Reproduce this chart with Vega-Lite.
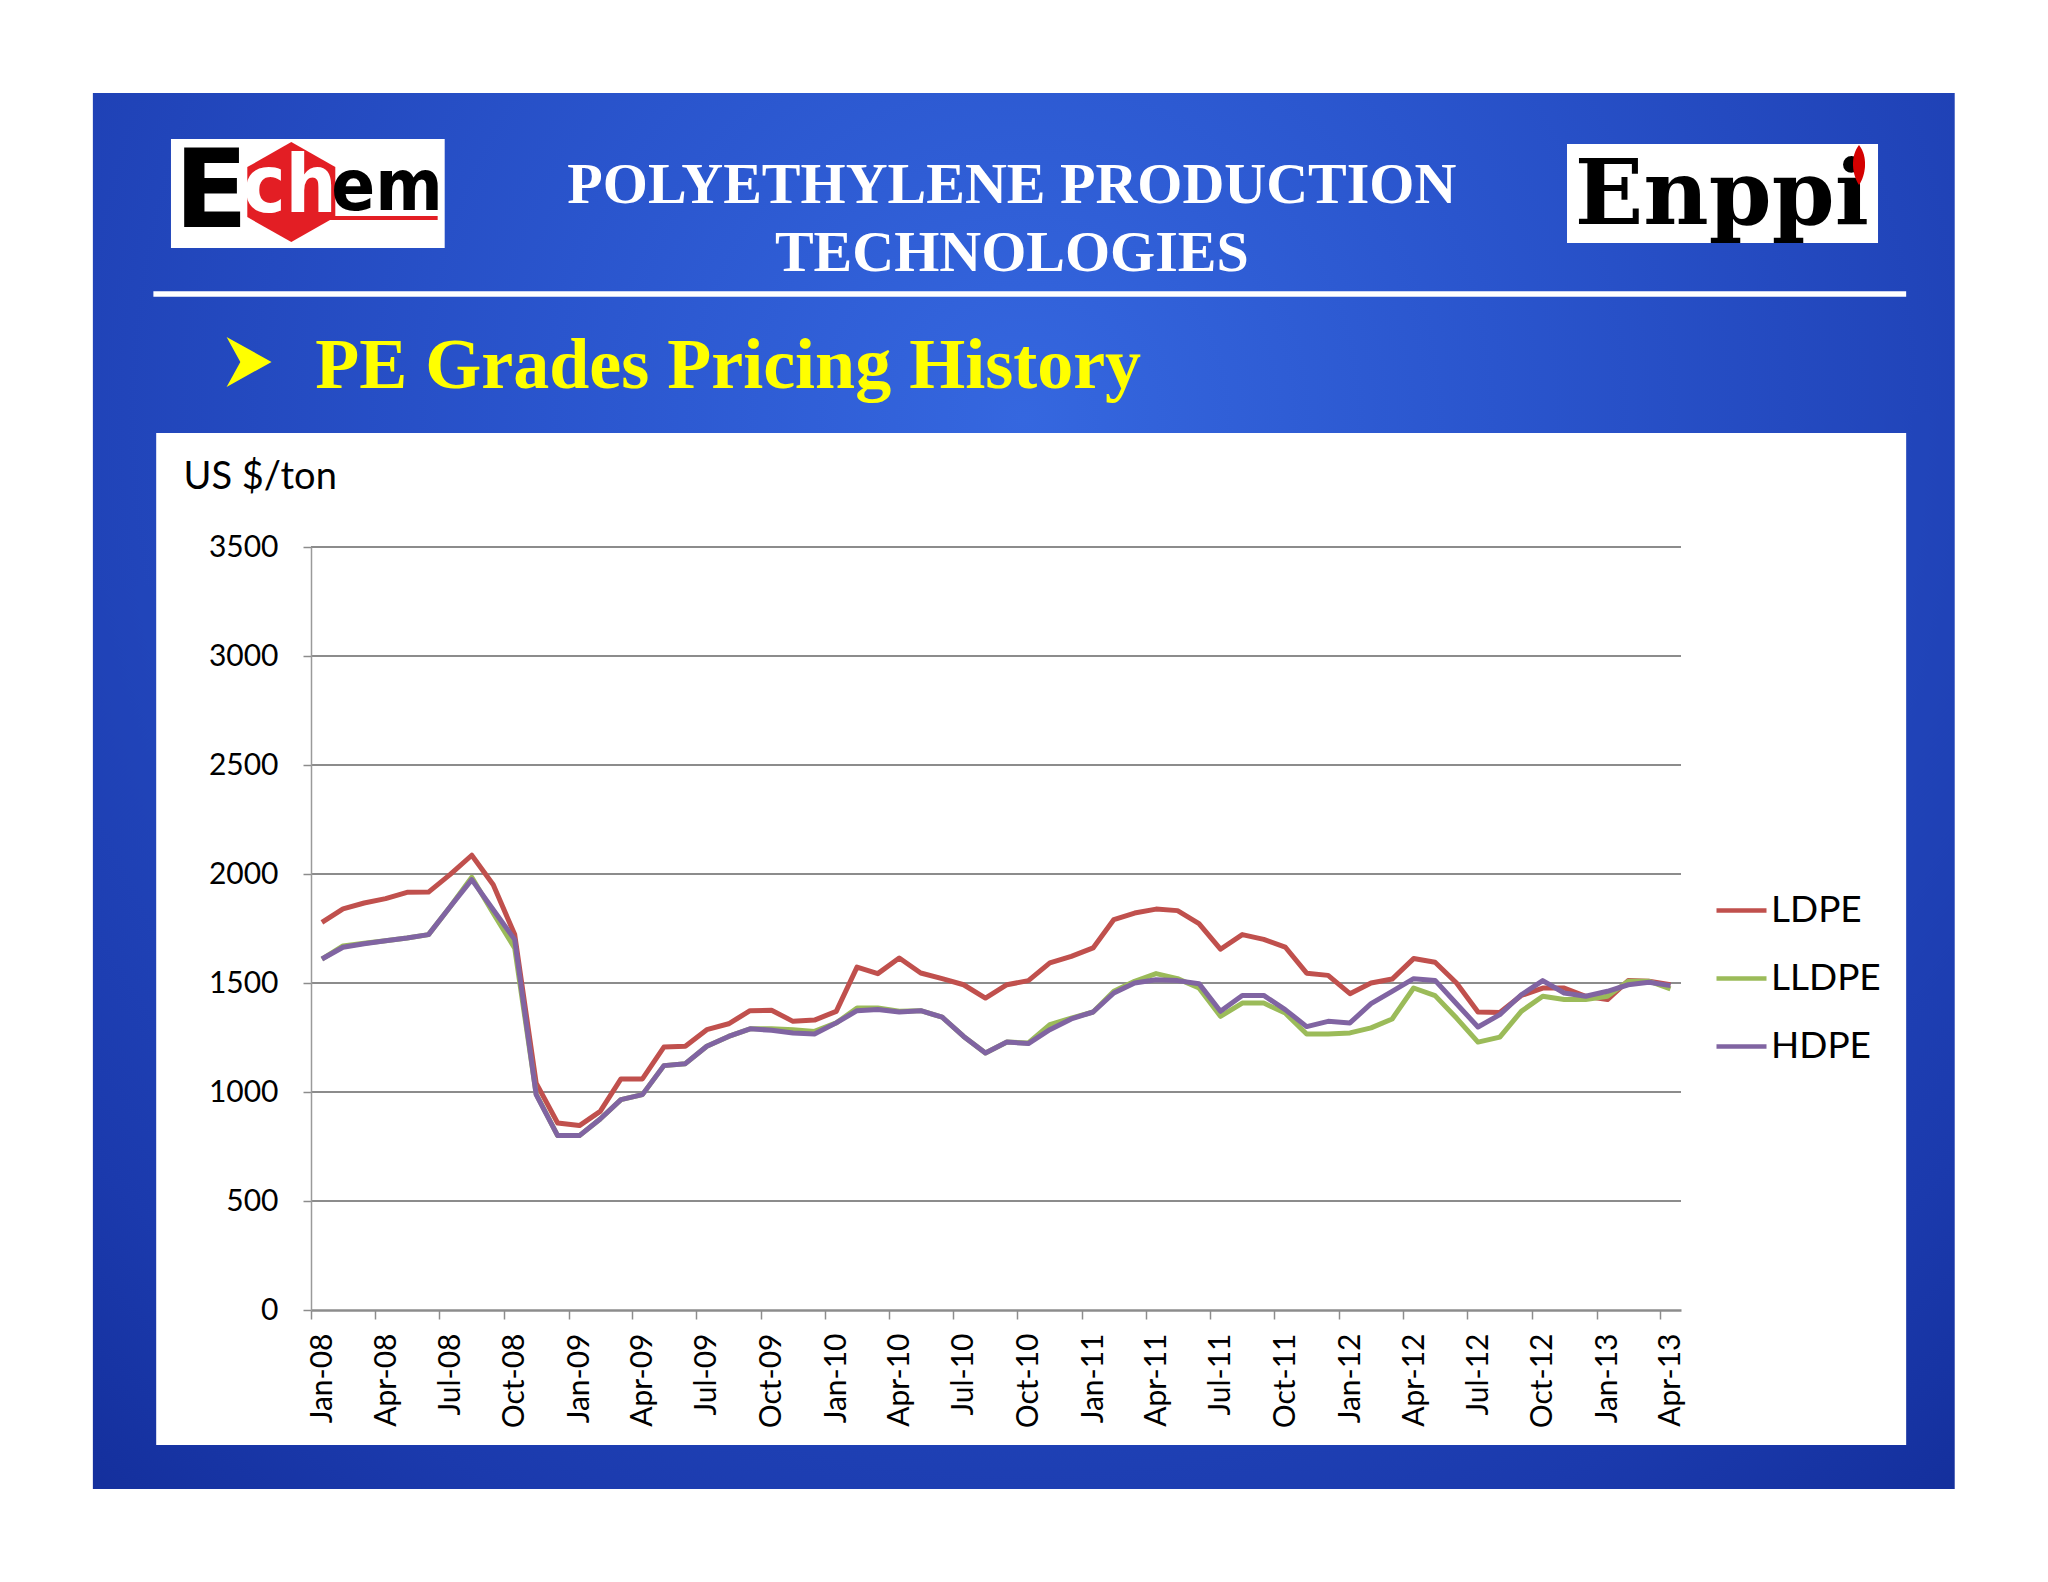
{
  "$schema": "https://vega.github.io/schema/vega-lite/v6.json",
  "width": 1862,
  "height": 1396,
  "autosize": {"type": "none"},
  "padding": {"left": 93, "top": 93, "right": 93, "bottom": 93},
  "background": "#ffffff",
  "config": {"view": {"stroke": null, "fill": null}},
  "resolve": {"axis": {"x": "independent", "y": "independent"}},
  "layer": [
    {
      "data": {"values": [{}]},
      "mark": {"type": "rect", "fill": {"gradient": "radial", "x1": 0.5, "y1": 0.3, "r1": 0, "x2": 0.5, "y2": 0.3, "r2": 0.85, "stops": [{"offset": 0, "color": "#3567df"}, {"offset": 0.3, "color": "#2a55cd"}, {"offset": 0.75, "color": "#1b3aad"}, {"offset": 1, "color": "#0f2891"}]}},
      "encoding": {
        "x": {"datum": {"year": 2007, "month": 2, "date": 25}, "type": "temporal", "scale": {"domain": [{"year": 2008, "month": 1, "date": 1}, {"year": 2013, "month": 5, "date": 1}], "range": [218, 1588]}, "axis": null},
        "x2": {"datum": {"year": 2014, "month": 5, "date": 25}},
        "y": {"datum": 5583, "type": "quantitative", "scale": {"domain": [0, 3500], "range": [1217, 454], "nice": false, "zero": false}, "axis": null},
        "y2": {"datum": -821}
      }
    },
    {
      "data": {"values": [{}]},
      "mark": {"type": "rule", "color": "#ffffff", "strokeWidth": 5.5},
      "encoding": {
        "x": {"datum": {"year": 2007, "month": 5, "date": 22}, "type": "temporal", "scale": {"domain": [{"year": 2008, "month": 1, "date": 1}, {"year": 2013, "month": 5, "date": 1}], "range": [218, 1588]}, "axis": null},
        "x2": {"datum": {"year": 2014, "month": 3, "date": 17}},
        "y": {"datum": 4661, "type": "quantitative", "scale": {"domain": [0, 3500], "range": [1217, 454], "nice": false, "zero": false}, "axis": null}
      }
    },
    {
      "data": {"values": [{}]},
      "mark": {"type": "rect", "fill": "#ffffff"},
      "encoding": {
        "x": {"datum": {"year": 2007, "month": 6, "date": 16}, "type": "temporal", "scale": {"domain": [{"year": 2008, "month": 1, "date": 1}, {"year": 2013, "month": 5, "date": 1}], "range": [218, 1588]}, "axis": null},
        "x2": {"datum": {"year": 2008, "month": 7, "date": 9}},
        "y": {"datum": 5372, "type": "quantitative", "scale": {"domain": [0, 3500], "range": [1217, 454], "nice": false, "zero": false}, "axis": null},
        "y2": {"datum": 4872}
      }
    },
    {
      "data": {"values": [{}]},
      "mark": {"type": "point", "shape": "M0,-1L0.88,-0.5L0.88,0.5L0,1L-0.88,0.5L-0.88,-0.5Z", "size": 10000, "filled": true, "color": "#e31e24", "opacity": 1},
      "encoding": {
        "x": {"datum": {"year": 2007, "month": 12, "date": 4}, "type": "temporal", "scale": {"domain": [{"year": 2008, "month": 1, "date": 1}, {"year": 2013, "month": 5, "date": 1}], "range": [218, 1588]}, "axis": null},
        "y": {"datum": 5128, "type": "quantitative", "scale": {"domain": [0, 3500], "range": [1217, 454], "nice": false, "zero": false}, "axis": null}
      }
    },
    {
      "data": {"values": [{}]},
      "mark": {"type": "text", "text": "E", "font": "DejaVu Sans", "fontWeight": "bold", "fontSize": 108, "align": "center", "baseline": "alphabetic", "color": "#000000"},
      "encoding": {
        "x": {"datum": {"year": 2007, "month": 8, "date": 12}, "type": "temporal", "scale": {"domain": [{"year": 2008, "month": 1, "date": 1}, {"year": 2013, "month": 5, "date": 1}], "range": [218, 1588]}, "axis": null},
        "y": {"datum": 4968, "type": "quantitative", "scale": {"domain": [0, 3500], "range": [1217, 454], "nice": false, "zero": false}, "axis": null}
      }
    },
    {
      "data": {"values": [{}]},
      "mark": {"type": "text", "text": "ch", "font": "Liberation Sans Narrow, DejaVu Sans Condensed, Liberation Sans, sans-serif", "fontWeight": "bold", "fontSize": 80, "align": "center", "baseline": "alphabetic", "color": "#ffffff"},
      "encoding": {
        "x": {"datum": {"year": 2007, "month": 12, "date": 2}, "type": "temporal", "scale": {"domain": [{"year": 2008, "month": 1, "date": 1}, {"year": 2013, "month": 5, "date": 1}], "range": [218, 1588]}, "axis": null},
        "y": {"datum": 5037, "type": "quantitative", "scale": {"domain": [0, 3500], "range": [1217, 454], "nice": false, "zero": false}, "axis": null}
      }
    },
    {
      "data": {"values": [{}]},
      "mark": {"type": "text", "text": "em", "font": "Liberation Sans Narrow, DejaVu Sans Condensed, Liberation Sans, sans-serif", "fontWeight": "bold", "fontSize": 72, "align": "center", "baseline": "alphabetic", "color": "#000000"},
      "encoding": {
        "x": {"datum": {"year": 2008, "month": 4, "date": 18}, "type": "temporal", "scale": {"domain": [{"year": 2008, "month": 1, "date": 1}, {"year": 2013, "month": 5, "date": 1}], "range": [218, 1588]}, "axis": null},
        "y": {"datum": 5046, "type": "quantitative", "scale": {"domain": [0, 3500], "range": [1217, 454], "nice": false, "zero": false}, "axis": null}
      }
    },
    {
      "data": {"values": [{}]},
      "mark": {"type": "rule", "color": "#e31e24", "strokeWidth": 4},
      "encoding": {
        "x": {"datum": {"year": 2008, "month": 1, "date": 28}, "type": "temporal", "scale": {"domain": [{"year": 2008, "month": 1, "date": 1}, {"year": 2013, "month": 5, "date": 1}], "range": [218, 1588]}, "axis": null},
        "x2": {"datum": {"year": 2008, "month": 6, "date": 29}},
        "y": {"datum": 5009, "type": "quantitative", "scale": {"domain": [0, 3500], "range": [1217, 454], "nice": false, "zero": false}, "axis": null}
      }
    },
    {
      "data": {"values": [{}]},
      "mark": {"type": "rect", "fill": "#ffffff"},
      "encoding": {
        "x": {"datum": {"year": 2012, "month": 11, "date": 20}, "type": "temporal", "scale": {"domain": [{"year": 2008, "month": 1, "date": 1}, {"year": 2013, "month": 5, "date": 1}], "range": [218, 1588]}, "axis": null},
        "x2": {"datum": {"year": 2014, "month": 2, "date": 5}},
        "y": {"datum": 5349, "type": "quantitative", "scale": {"domain": [0, 3500], "range": [1217, 454], "nice": false, "zero": false}, "axis": null},
        "y2": {"datum": 4894}
      }
    },
    {
      "data": {"values": [{}]},
      "mark": {"type": "text", "text": "Enppi", "font": "DejaVu Serif", "fontWeight": "bold", "fontSize": 90, "align": "center", "baseline": "alphabetic", "color": "#000000"},
      "encoding": {
        "x": {"datum": {"year": 2013, "month": 6, "date": 28}, "type": "temporal", "scale": {"domain": [{"year": 2008, "month": 1, "date": 1}, {"year": 2013, "month": 5, "date": 1}], "range": [218, 1588]}, "axis": null},
        "y": {"datum": 4982, "type": "quantitative", "scale": {"domain": [0, 3500], "range": [1217, 454], "nice": false, "zero": false}, "axis": null}
      }
    },
    {
      "data": {"values": [{}]},
      "mark": {"type": "point", "shape": "M0,-1C0.45,-0.45 0.35,0.5 0,1C-0.35,0.5 -0.45,-0.45 0,-1Z", "size": 1600, "filled": true, "color": "#d40000", "opacity": 1},
      "encoding": {
        "x": {"datum": {"year": 2014, "month": 1, "date": 9}, "type": "temporal", "scale": {"domain": [{"year": 2008, "month": 1, "date": 1}, {"year": 2013, "month": 5, "date": 1}], "range": [218, 1588]}, "axis": null},
        "y": {"datum": 5252, "type": "quantitative", "scale": {"domain": [0, 3500], "range": [1217, 454], "nice": false, "zero": false}, "axis": null}
      }
    },
    {
      "data": {"values": [{}]},
      "mark": {"type": "text", "text": ["POLYETHYLENE PRODUCTION", "TECHNOLOGIES"], "lineHeight": 68, "font": "Liberation Serif", "fontWeight": "bold", "fontSize": 58, "align": "center", "baseline": "alphabetic", "color": "#ffffff"},
      "encoding": {
        "x": {"datum": {"year": 2010, "month": 9, "date": 23}, "type": "temporal", "scale": {"domain": [{"year": 2008, "month": 1, "date": 1}, {"year": 2013, "month": 5, "date": 1}], "range": [218, 1588]}, "axis": null},
        "y": {"datum": 5078, "type": "quantitative", "scale": {"domain": [0, 3500], "range": [1217, 454], "nice": false, "zero": false}, "axis": null}
      }
    },
    {
      "data": {"values": [{}]},
      "mark": {"type": "point", "shape": "M-0.9,-1L0.9,0L-0.9,1L-0.35,0Z", "size": 2500, "filled": true, "color": "#ffff00", "opacity": 1},
      "encoding": {
        "x": {"datum": {"year": 2007, "month": 10, "date": 5}, "type": "temporal", "scale": {"domain": [{"year": 2008, "month": 1, "date": 1}, {"year": 2013, "month": 5, "date": 1}], "range": [218, 1588]}, "axis": null},
        "y": {"datum": 4349, "type": "quantitative", "scale": {"domain": [0, 3500], "range": [1217, 454], "nice": false, "zero": false}, "axis": null}
      }
    },
    {
      "data": {"values": [{}]},
      "mark": {"type": "text", "text": "PE Grades Pricing History", "font": "Liberation Serif", "fontWeight": "bold", "fontSize": 72, "align": "left", "baseline": "alphabetic", "color": "#ffff00"},
      "encoding": {
        "x": {"datum": {"year": 2008, "month": 1, "date": 7}, "type": "temporal", "scale": {"domain": [{"year": 2008, "month": 1, "date": 1}, {"year": 2013, "month": 5, "date": 1}], "range": [218, 1588]}, "axis": null},
        "y": {"datum": 4229, "type": "quantitative", "scale": {"domain": [0, 3500], "range": [1217, 454], "nice": false, "zero": false}, "axis": null}
      }
    },
    {
      "data": {"values": [{}]},
      "mark": {"type": "rect", "fill": "#ffffff"},
      "encoding": {
        "x": {"datum": {"year": 2007, "month": 5, "date": 26}, "type": "temporal", "scale": {"domain": [{"year": 2008, "month": 1, "date": 1}, {"year": 2013, "month": 5, "date": 1}], "range": [218, 1588]}, "axis": null},
        "x2": {"datum": {"year": 2014, "month": 3, "date": 17}},
        "y": {"datum": 4023, "type": "quantitative", "scale": {"domain": [0, 3500], "range": [1217, 454], "nice": false, "zero": false}, "axis": null},
        "y2": {"datum": -619}
      }
    },
    {
      "data": {"values": [{"v": 500}, {"v": 1000}, {"v": 1500}, {"v": 2000}, {"v": 2500}, {"v": 3000}, {"v": 3500}]},
      "mark": {"type": "rule", "color": "#8c8c8c", "strokeWidth": 2},
      "encoding": {
        "x": {"datum": {"year": 2008, "month": 1, "date": 1}, "type": "temporal", "scale": {"domain": [{"year": 2008, "month": 1, "date": 1}, {"year": 2013, "month": 5, "date": 1}], "range": [218, 1588]}, "axis": null},
        "x2": {"datum": {"year": 2013, "month": 5, "date": 1}},
        "y": {"field": "v", "type": "quantitative", "scale": {"domain": [0, 3500], "range": [1217, 454], "nice": false, "zero": false}, "axis": null}
      }
    },
    {
      "data": {"values": [
        {"month": "2008-01-15", "LDPE": 1778, "LLDPE": 1610, "HDPE": 1610},
        {"month": "2008-02-15", "LDPE": 1840, "LLDPE": 1670, "HDPE": 1664},
        {"month": "2008-03-15", "LDPE": 1867, "LLDPE": 1682, "HDPE": 1680},
        {"month": "2008-04-15", "LDPE": 1887, "LLDPE": 1694, "HDPE": 1694},
        {"month": "2008-05-15", "LDPE": 1916, "LLDPE": 1706, "HDPE": 1706},
        {"month": "2008-06-15", "LDPE": 1917, "LLDPE": 1722, "HDPE": 1722},
        {"month": "2008-07-15", "LDPE": 1997, "LLDPE": 1849, "HDPE": 1849},
        {"month": "2008-08-15", "LDPE": 2086, "LLDPE": 1985, "HDPE": 1974},
        {"month": "2008-09-15", "LDPE": 1951, "LLDPE": 1820, "HDPE": 1836},
        {"month": "2008-10-15", "LDPE": 1722, "LLDPE": 1660, "HDPE": 1699},
        {"month": "2008-11-15", "LDPE": 1041, "LLDPE": 990, "HDPE": 988},
        {"month": "2008-12-15", "LDPE": 858, "LLDPE": 800, "HDPE": 800},
        {"month": "2009-01-15", "LDPE": 846, "LLDPE": 800, "HDPE": 800},
        {"month": "2009-02-15", "LDPE": 911, "LLDPE": 876, "HDPE": 876},
        {"month": "2009-03-15", "LDPE": 1060, "LLDPE": 965, "HDPE": 965},
        {"month": "2009-04-15", "LDPE": 1060, "LLDPE": 988, "HDPE": 988},
        {"month": "2009-05-15", "LDPE": 1206, "LLDPE": 1121, "HDPE": 1121},
        {"month": "2009-06-15", "LDPE": 1210, "LLDPE": 1130, "HDPE": 1130},
        {"month": "2009-07-15", "LDPE": 1286, "LLDPE": 1210, "HDPE": 1210},
        {"month": "2009-08-15", "LDPE": 1313, "LLDPE": 1255, "HDPE": 1255},
        {"month": "2009-09-15", "LDPE": 1373, "LLDPE": 1290, "HDPE": 1290},
        {"month": "2009-10-15", "LDPE": 1375, "LLDPE": 1290, "HDPE": 1283},
        {"month": "2009-11-15", "LDPE": 1324, "LLDPE": 1285, "HDPE": 1271},
        {"month": "2009-12-15", "LDPE": 1330, "LLDPE": 1278, "HDPE": 1266},
        {"month": "2010-01-15", "LDPE": 1370, "LLDPE": 1317, "HDPE": 1317},
        {"month": "2010-02-15", "LDPE": 1573, "LLDPE": 1385, "HDPE": 1373},
        {"month": "2010-03-15", "LDPE": 1543, "LLDPE": 1385, "HDPE": 1378},
        {"month": "2010-04-15", "LDPE": 1615, "LLDPE": 1370, "HDPE": 1367},
        {"month": "2010-05-15", "LDPE": 1546, "LLDPE": 1373, "HDPE": 1373},
        {"month": "2010-06-15", "LDPE": 1520, "LLDPE": 1343, "HDPE": 1343},
        {"month": "2010-07-15", "LDPE": 1492, "LLDPE": 1255, "HDPE": 1255},
        {"month": "2010-08-15", "LDPE": 1431, "LLDPE": 1179, "HDPE": 1179},
        {"month": "2010-09-15", "LDPE": 1492, "LLDPE": 1229, "HDPE": 1229},
        {"month": "2010-10-15", "LDPE": 1511, "LLDPE": 1225, "HDPE": 1222},
        {"month": "2010-11-15", "LDPE": 1592, "LLDPE": 1309, "HDPE": 1286},
        {"month": "2010-12-15", "LDPE": 1622, "LLDPE": 1339, "HDPE": 1335},
        {"month": "2011-01-15", "LDPE": 1661, "LLDPE": 1367, "HDPE": 1367},
        {"month": "2011-02-15", "LDPE": 1791, "LLDPE": 1462, "HDPE": 1454},
        {"month": "2011-03-15", "LDPE": 1821, "LLDPE": 1508, "HDPE": 1500},
        {"month": "2011-04-15", "LDPE": 1839, "LLDPE": 1543, "HDPE": 1515},
        {"month": "2011-05-15", "LDPE": 1832, "LLDPE": 1520, "HDPE": 1511},
        {"month": "2011-06-15", "LDPE": 1772, "LLDPE": 1477, "HDPE": 1497},
        {"month": "2011-07-15", "LDPE": 1655, "LLDPE": 1347, "HDPE": 1370},
        {"month": "2011-08-15", "LDPE": 1722, "LLDPE": 1408, "HDPE": 1443},
        {"month": "2011-09-15", "LDPE": 1700, "LLDPE": 1408, "HDPE": 1443},
        {"month": "2011-10-15", "LDPE": 1665, "LLDPE": 1362, "HDPE": 1378},
        {"month": "2011-11-15", "LDPE": 1545, "LLDPE": 1266, "HDPE": 1300},
        {"month": "2011-12-15", "LDPE": 1535, "LLDPE": 1266, "HDPE": 1324},
        {"month": "2012-01-15", "LDPE": 1451, "LLDPE": 1271, "HDPE": 1317},
        {"month": "2012-02-15", "LDPE": 1500, "LLDPE": 1294, "HDPE": 1405},
        {"month": "2012-03-15", "LDPE": 1518, "LLDPE": 1335, "HDPE": 1462},
        {"month": "2012-04-15", "LDPE": 1612, "LLDPE": 1477, "HDPE": 1520},
        {"month": "2012-05-15", "LDPE": 1595, "LLDPE": 1442, "HDPE": 1512},
        {"month": "2012-06-15", "LDPE": 1500, "LLDPE": 1339, "HDPE": 1405},
        {"month": "2012-07-15", "LDPE": 1367, "LLDPE": 1229, "HDPE": 1298},
        {"month": "2012-08-15", "LDPE": 1365, "LLDPE": 1252, "HDPE": 1355},
        {"month": "2012-09-15", "LDPE": 1443, "LLDPE": 1370, "HDPE": 1446},
        {"month": "2012-10-15", "LDPE": 1477, "LLDPE": 1439, "HDPE": 1511},
        {"month": "2012-11-15", "LDPE": 1477, "LLDPE": 1424, "HDPE": 1454},
        {"month": "2012-12-15", "LDPE": 1439, "LLDPE": 1424, "HDPE": 1439},
        {"month": "2013-01-15", "LDPE": 1424, "LLDPE": 1439, "HDPE": 1462},
        {"month": "2013-02-15", "LDPE": 1511, "LLDPE": 1508, "HDPE": 1492},
        {"month": "2013-03-15", "LDPE": 1508, "LLDPE": 1508, "HDPE": 1503},
        {"month": "2013-04-15", "LDPE": 1492, "LLDPE": 1473, "HDPE": 1488}
      ]},
      "transform": [{"fold": ["LDPE", "LLDPE", "HDPE"], "as": ["grade", "price"]}],
      "mark": {"type": "line", "strokeWidth": 5, "strokeJoin": "round"},
      "encoding": {
        "x": {
          "field": "month", "timeUnit": "yearmonth", "type": "temporal", "bandPosition": 0.5,
          "scale": {"domain": [{"year": 2008, "month": 1, "date": 1}, {"year": 2013, "month": 5, "date": 1}], "range": [218, 1588]},
          "axis": {
            "orient": "bottom", "offset": -179, "zindex": 1, "title": null, "grid": false,
            "tickCount": {"interval": "month", "step": 3}, "format": "%b-%y", "formatType": "time",
            "labelAngle": -90, "labelAlign": "right", "labelBaseline": "middle", "labelOffset": 11, "labelPadding": 14,
            "labelFont": "Lato", "labelFontSize": 30, "labelColor": "#000000", "labelFlush": false, "labelOverlap": false, "labelBound": false,
            "tickSize": 9, "tickColor": "#8c8c8c", "tickWidth": 1.5, "domainColor": "#8c8c8c", "domainWidth": 2.5
          }
        },
        "y": {
          "field": "price", "type": "quantitative",
          "scale": {"domain": [0, 3500], "range": [1217, 454], "nice": false, "zero": false},
          "axis": {
            "orient": "left", "offset": -218, "zindex": 1, "grid": false,
            "values": [0, 500, 1000, 1500, 2000, 2500, 3000, 3500], "format": "d",
            "labelFont": "Lato", "labelFontSize": 30, "labelColor": "#000000", "labelPadding": 25, "labelFlush": false,
            "tickSize": 8, "tickColor": "#8c8c8c", "tickWidth": 1.5, "domainColor": "#9a9a9a", "domainWidth": 1.5,
            "title": "US $/ton", "titleAngle": 0, "titleAlign": "left", "titleBaseline": "alphabetic", "titleX": -128, "titleY": 395,
            "titleFont": "Lato", "titleFontSize": 38, "titleFontWeight": "normal", "titleColor": "#000000"
          }
        },
        "color": {
          "field": "grade", "type": "nominal",
          "scale": {"domain": ["LDPE", "LLDPE", "HDPE"], "range": ["#C0504D", "#9BBB59", "#8064A2"]},
          "legend": {
            "orient": "none", "legendX": 1621, "legendY": 790, "title": null, "padding": 0,
            "symbolType": "stroke", "symbolSize": 2500, "symbolStrokeWidth": 4.5,
            "labelFont": "Lato", "labelFontSize": 37, "labelColor": "#000000", "labelOffset": 2, "rowPadding": 22
          }
        }
      }
    }
  ]
}
